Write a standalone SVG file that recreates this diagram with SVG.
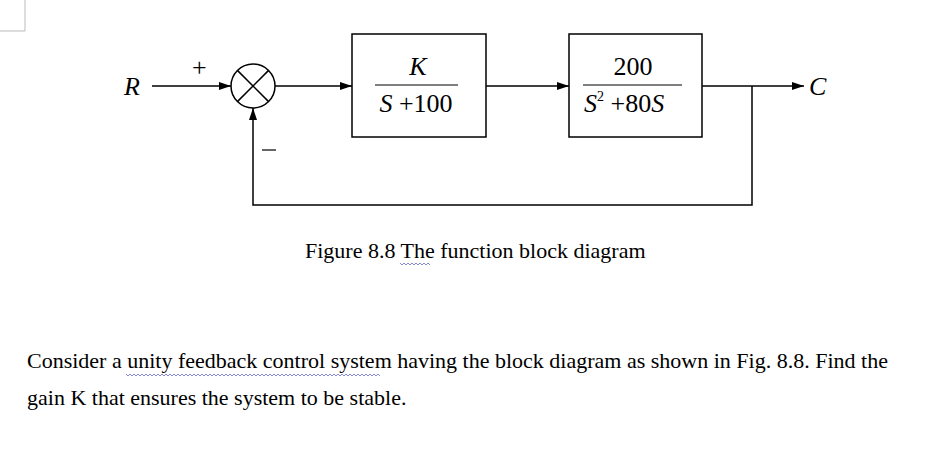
<svg xmlns="http://www.w3.org/2000/svg" width="925" height="457" viewBox="0 0 925 457">
<defs>
<marker id="a" markerWidth="12" markerHeight="8" refX="12" refY="4" orient="auto" markerUnits="userSpaceOnUse"><path d="M0,0 L12,4 L0,8 Z" fill="#000"/></marker>
</defs>
<style>
.ln{stroke:#000;stroke-width:1.5;fill:none}
.t{font-family:"Liberation Serif",serif;fill:#000}
.i{font-style:italic}
.sq{stroke:#6a6ad0;stroke-width:0.8;fill:none}
</style>
<rect width="925" height="457" fill="#fff"/>
<path d="M0,31 H25 V0" fill="none" stroke="#bbb"/>
<g id="connectors">
<line class="ln" x1="152" y1="86" x2="231" y2="86" marker-end="url(#a)"/>
<line class="ln" x1="275" y1="86" x2="352" y2="86" marker-end="url(#a)"/>
<line class="ln" x1="486" y1="86" x2="569" y2="86" marker-end="url(#a)"/>
<line class="ln" x1="702" y1="86" x2="804" y2="86" marker-end="url(#a)"/>
<polyline class="ln" points="752,86 752,205 253,205 253,108" marker-end="url(#a)"/>
</g>
<g id="R"><text class="t i" x="124" y="95" font-size="26">R</text></g>
<g id="C"><text class="t i" x="809" y="95" font-size="26">C</text></g>
<g id="sum">
<circle class="ln" cx="253" cy="86" r="22"/>
<line class="ln" x1="237.4" y1="70.4" x2="268.6" y2="101.6"/>
<line class="ln" x1="268.6" y1="70.4" x2="237.4" y2="101.6"/>
<text class="t" x="192" y="76" font-size="26">+</text>
<line x1="262" y1="150" x2="276" y2="150" stroke="#000" stroke-width="1.2"/>
</g>
<g id="G1">
<rect class="ln" x="352" y="34" width="134" height="103"/>
<text class="t i" x="418" y="75" font-size="26" text-anchor="middle">K</text>
<line x1="375" y1="85" x2="458" y2="85" stroke="#000" stroke-width="1.2"/>
<text class="t" x="416" y="112" font-size="26" text-anchor="middle"><tspan font-style="italic">S</tspan> +100</text>
</g>
<g id="G2">
<rect class="ln" x="569" y="34" width="133" height="103"/>
<text class="t" x="633" y="75" font-size="26" text-anchor="middle">200</text>
<line x1="583" y1="85" x2="682" y2="85" stroke="#000" stroke-width="1.2"/>
<text class="t" x="584" y="112" font-size="26"><tspan font-style="italic">S</tspan><tspan font-size="14" dy="-11">2</tspan><tspan dy="11"> +80</tspan><tspan font-style="italic">S</tspan></text>
</g>
<text class="t" x="305" y="258" font-size="22">Figure 8.8 The function block diagram</text>
<path class="sq" d="M400,263 l2,2 2,-2 2,2 2,-2 2,2 2,-2 2,2 2,-2 2,2 2,-2 2,2 2,-2 2,2 2,-2 2,2"/>
<text class="t" x="27" y="368" font-size="22">Consider a unity feedback control system having the block diagram as shown in Fig. 8.8. Find the</text>
<path class="sq" d="M126,374 l2,2 2,-2 2,2 2,-2 2,2 2,-2 2,2 2,-2 2,2 2,-2 2,2 2,-2 2,2 2,-2 2,2 2,-2 2,2 2,-2 2,2 2,-2 2,2 2,-2 2,2 2,-2 2,2 2,-2 2,2 2,-2 2,2 2,-2 2,2 2,-2 2,2 2,-2 2,2 2,-2 2,2 2,-2 2,2 2,-2 2,2 2,-2 2,2 2,-2 2,2 2,-2 2,2 2,-2 2,2 2,-2 2,2 2,-2 2,2 2,-2 2,2 2,-2 2,2 2,-2 2,2 2,-2 2,2 2,-2 2,2 2,-2 2,2 2,-2 2,2 2,-2 2,2 2,-2 2,2 2,-2 2,2 2,-2 2,2 2,-2 2,2 2,-2 2,2 2,-2 2,2 2,-2 2,2 2,-2 2,2 2,-2 2,2 2,-2 2,2 2,-2 2,2 2,-2 2,2 2,-2 2,2 2,-2 2,2 2,-2 2,2 2,-2 2,2 2,-2 2,2 2,-2 2,2 2,-2 2,2 2,-2 2,2 2,-2 2,2 2,-2 2,2 2,-2 2,2 2,-2 2,2 2,-2 2,2 2,-2 2,2 2,-2 2,2 2,-2 2,2 2,-2 2,2"/>
<text class="t" x="27" y="405" font-size="22">gain K that ensures the system to be stable.</text>
</svg>
